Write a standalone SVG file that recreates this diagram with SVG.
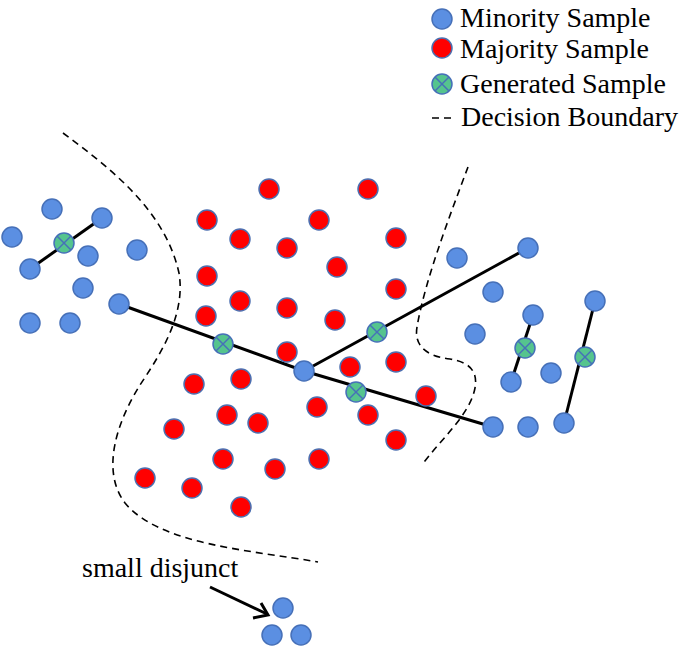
<svg xmlns="http://www.w3.org/2000/svg" width="685" height="649" viewBox="0 0 685 649">
<defs>
<style>
.min{fill:#5B8FE2;stroke:#4670B8;stroke-width:1.5}
.maj{fill:#FF0000;stroke:#4C6FB0;stroke-width:1.5}
.gen{fill:#55C48E;stroke:#4670B8;stroke-width:1.5}
.x{stroke:#4670B8;stroke-width:1.5}
.link{stroke:#000;stroke-width:3;fill:none}
.bnd{stroke:#000;stroke-width:1.6;fill:none;stroke-dasharray:7 5}
.t{font-family:"Liberation Serif","Times New Roman",serif;font-size:28px;fill:#000}
</style>
<g id="genMark">
<circle class="gen" cx="0" cy="0" r="10"/>
<line class="x" x1="-7" y1="-7" x2="7" y2="7"/>
<line class="x" x1="-7" y1="7" x2="7" y2="-7"/>
</g>
</defs>
<rect width="685" height="649" fill="#fff"/>

<g id="legend">
<circle class="min" cx="442" cy="19" r="10"/>
<text class="t" x="460" y="27">Minority Sample</text>
<circle class="maj" cx="442" cy="48" r="10"/>
<text class="t" x="460" y="58">Majority Sample</text>
<use href="#genMark" x="442" y="84"/>
<text class="t" x="460" y="93">Generated Sample</text>
<line class="bnd" x1="432" y1="118" x2="455" y2="118" stroke-dasharray="6 7"/>
<text class="t" x="461" y="126">Decision Boundary</text>
</g>

<g id="boundaries">
<path class="bnd" d="M63,133 C110,168 165,210 179,273 C186,315 160,355 140,385 C118,420 100,470 125,503 C160,545 250,550 318,562"/>
<path class="bnd" d="M468,167 C450,215 425,280 417,327 C414,345 425,356 450,359 C470,362 478,372 475,388 C470,415 440,440 422,465"/>
</g>

<g id="connectors">
<line class="link" x1="30" y1="269" x2="102" y2="218"/>
<line class="link" x1="119" y1="304" x2="304" y2="371"/>
<line class="link" x1="304" y1="371" x2="528" y2="248"/>
<line class="link" x1="304" y1="371" x2="493" y2="427"/>
<line class="link" x1="533" y1="315" x2="511" y2="382"/>
<line class="link" x1="595" y1="301" x2="564" y2="423"/>
<line class="link" x1="210" y1="587" x2="267" y2="614"/>
<polyline class="link" points="253,618 268,615 261,603" stroke-linejoin="miter"/>
</g>

<g id="majority">
<g id="r1"><circle class="maj" cx="269" cy="189" r="10"/></g>
<g id="r2"><circle class="maj" cx="368" cy="189" r="10"/></g>
<g id="r3"><circle class="maj" cx="207" cy="220" r="10"/></g>
<g id="r4"><circle class="maj" cx="319" cy="220" r="10"/></g>
<g id="r5"><circle class="maj" cx="240" cy="239" r="10"/></g>
<g id="r6"><circle class="maj" cx="287" cy="248" r="10"/></g>
<g id="r7"><circle class="maj" cx="396" cy="238" r="10"/></g>
<g id="r8"><circle class="maj" cx="337" cy="267" r="10"/></g>
<g id="r9"><circle class="maj" cx="207" cy="276" r="10"/></g>
<g id="r10"><circle class="maj" cx="396" cy="289" r="10"/></g>
<g id="r11"><circle class="maj" cx="240" cy="301" r="10"/></g>
<g id="r12"><circle class="maj" cx="287" cy="308" r="10"/></g>
<g id="r13"><circle class="maj" cx="206" cy="316" r="10"/></g>
<g id="r14"><circle class="maj" cx="335" cy="320" r="10"/></g>
<g id="r15"><circle class="maj" cx="287" cy="352" r="10"/></g>
<g id="r16"><circle class="maj" cx="350" cy="367" r="10"/></g>
<g id="r17"><circle class="maj" cx="396" cy="362" r="10"/></g>
<g id="r18"><circle class="maj" cx="194" cy="384" r="10"/></g>
<g id="r19"><circle class="maj" cx="241" cy="379" r="10"/></g>
<g id="r20"><circle class="maj" cx="317" cy="407" r="10"/></g>
<g id="r21"><circle class="maj" cx="368" cy="415" r="10"/></g>
<g id="r22"><circle class="maj" cx="227" cy="415" r="10"/></g>
<g id="r23"><circle class="maj" cx="258" cy="423" r="10"/></g>
<g id="r24"><circle class="maj" cx="174" cy="429" r="10"/></g>
<g id="r25"><circle class="maj" cx="396" cy="440" r="10"/></g>
<g id="r26"><circle class="maj" cx="223" cy="459" r="10"/></g>
<g id="r27"><circle class="maj" cx="275" cy="469" r="10"/></g>
<g id="r28"><circle class="maj" cx="319" cy="459" r="10"/></g>
<g id="r29"><circle class="maj" cx="145" cy="478" r="10"/></g>
<g id="r30"><circle class="maj" cx="192" cy="488" r="10"/></g>
<g id="r31"><circle class="maj" cx="241" cy="507" r="10"/></g>
<g id="r32"><circle class="maj" cx="426" cy="396" r="10"/></g>
</g>

<g id="minority">
<g id="b1"><circle class="min" cx="52" cy="209" r="10"/></g>
<g id="b2"><circle class="min" cx="102" cy="218" r="10"/></g>
<g id="b3"><circle class="min" cx="12" cy="237" r="10"/></g>
<g id="b4"><circle class="min" cx="88" cy="256" r="10"/></g>
<g id="b5"><circle class="min" cx="137" cy="250" r="10"/></g>
<g id="b6"><circle class="min" cx="30" cy="269" r="10"/></g>
<g id="b7"><circle class="min" cx="83" cy="288" r="10"/></g>
<g id="b8"><circle class="min" cx="119" cy="304" r="10"/></g>
<g id="b9"><circle class="min" cx="30" cy="323" r="10"/></g>
<g id="b10"><circle class="min" cx="70" cy="323" r="10"/></g>
<g id="b11"><circle class="min" cx="304" cy="371" r="10"/></g>
<g id="b12"><circle class="min" cx="457" cy="258" r="10"/></g>
<g id="b13"><circle class="min" cx="528" cy="248" r="10"/></g>
<g id="b14"><circle class="min" cx="493" cy="292" r="10"/></g>
<g id="b15"><circle class="min" cx="595" cy="301" r="10"/></g>
<g id="b16"><circle class="min" cx="533" cy="315" r="10"/></g>
<g id="b17"><circle class="min" cx="475" cy="334" r="10"/></g>
<g id="b18"><circle class="min" cx="551" cy="373" r="10"/></g>
<g id="b19"><circle class="min" cx="511" cy="382" r="10"/></g>
<g id="b20"><circle class="min" cx="493" cy="427" r="10"/></g>
<g id="b21"><circle class="min" cx="528" cy="427" r="10"/></g>
<g id="b22"><circle class="min" cx="564" cy="423" r="10"/></g>
<g id="b23"><circle class="min" cx="283" cy="608" r="10"/></g>
<g id="b24"><circle class="min" cx="272" cy="635" r="10"/></g>
<g id="b25"><circle class="min" cx="301" cy="635" r="10"/></g>
</g>

<g id="generated">
<g id="g1"><use href="#genMark" x="64" y="243"/></g>
<g id="g2"><use href="#genMark" x="223" y="344"/></g>
<g id="g3"><use href="#genMark" x="377" y="332"/></g>
<g id="g4"><use href="#genMark" x="356" y="392"/></g>
<g id="g5"><use href="#genMark" x="525" y="348"/></g>
<g id="g6"><use href="#genMark" x="585" y="357"/></g>
</g>

<g id="label">
<text class="t" x="82" y="577">small disjunct</text>
</g>
</svg>
